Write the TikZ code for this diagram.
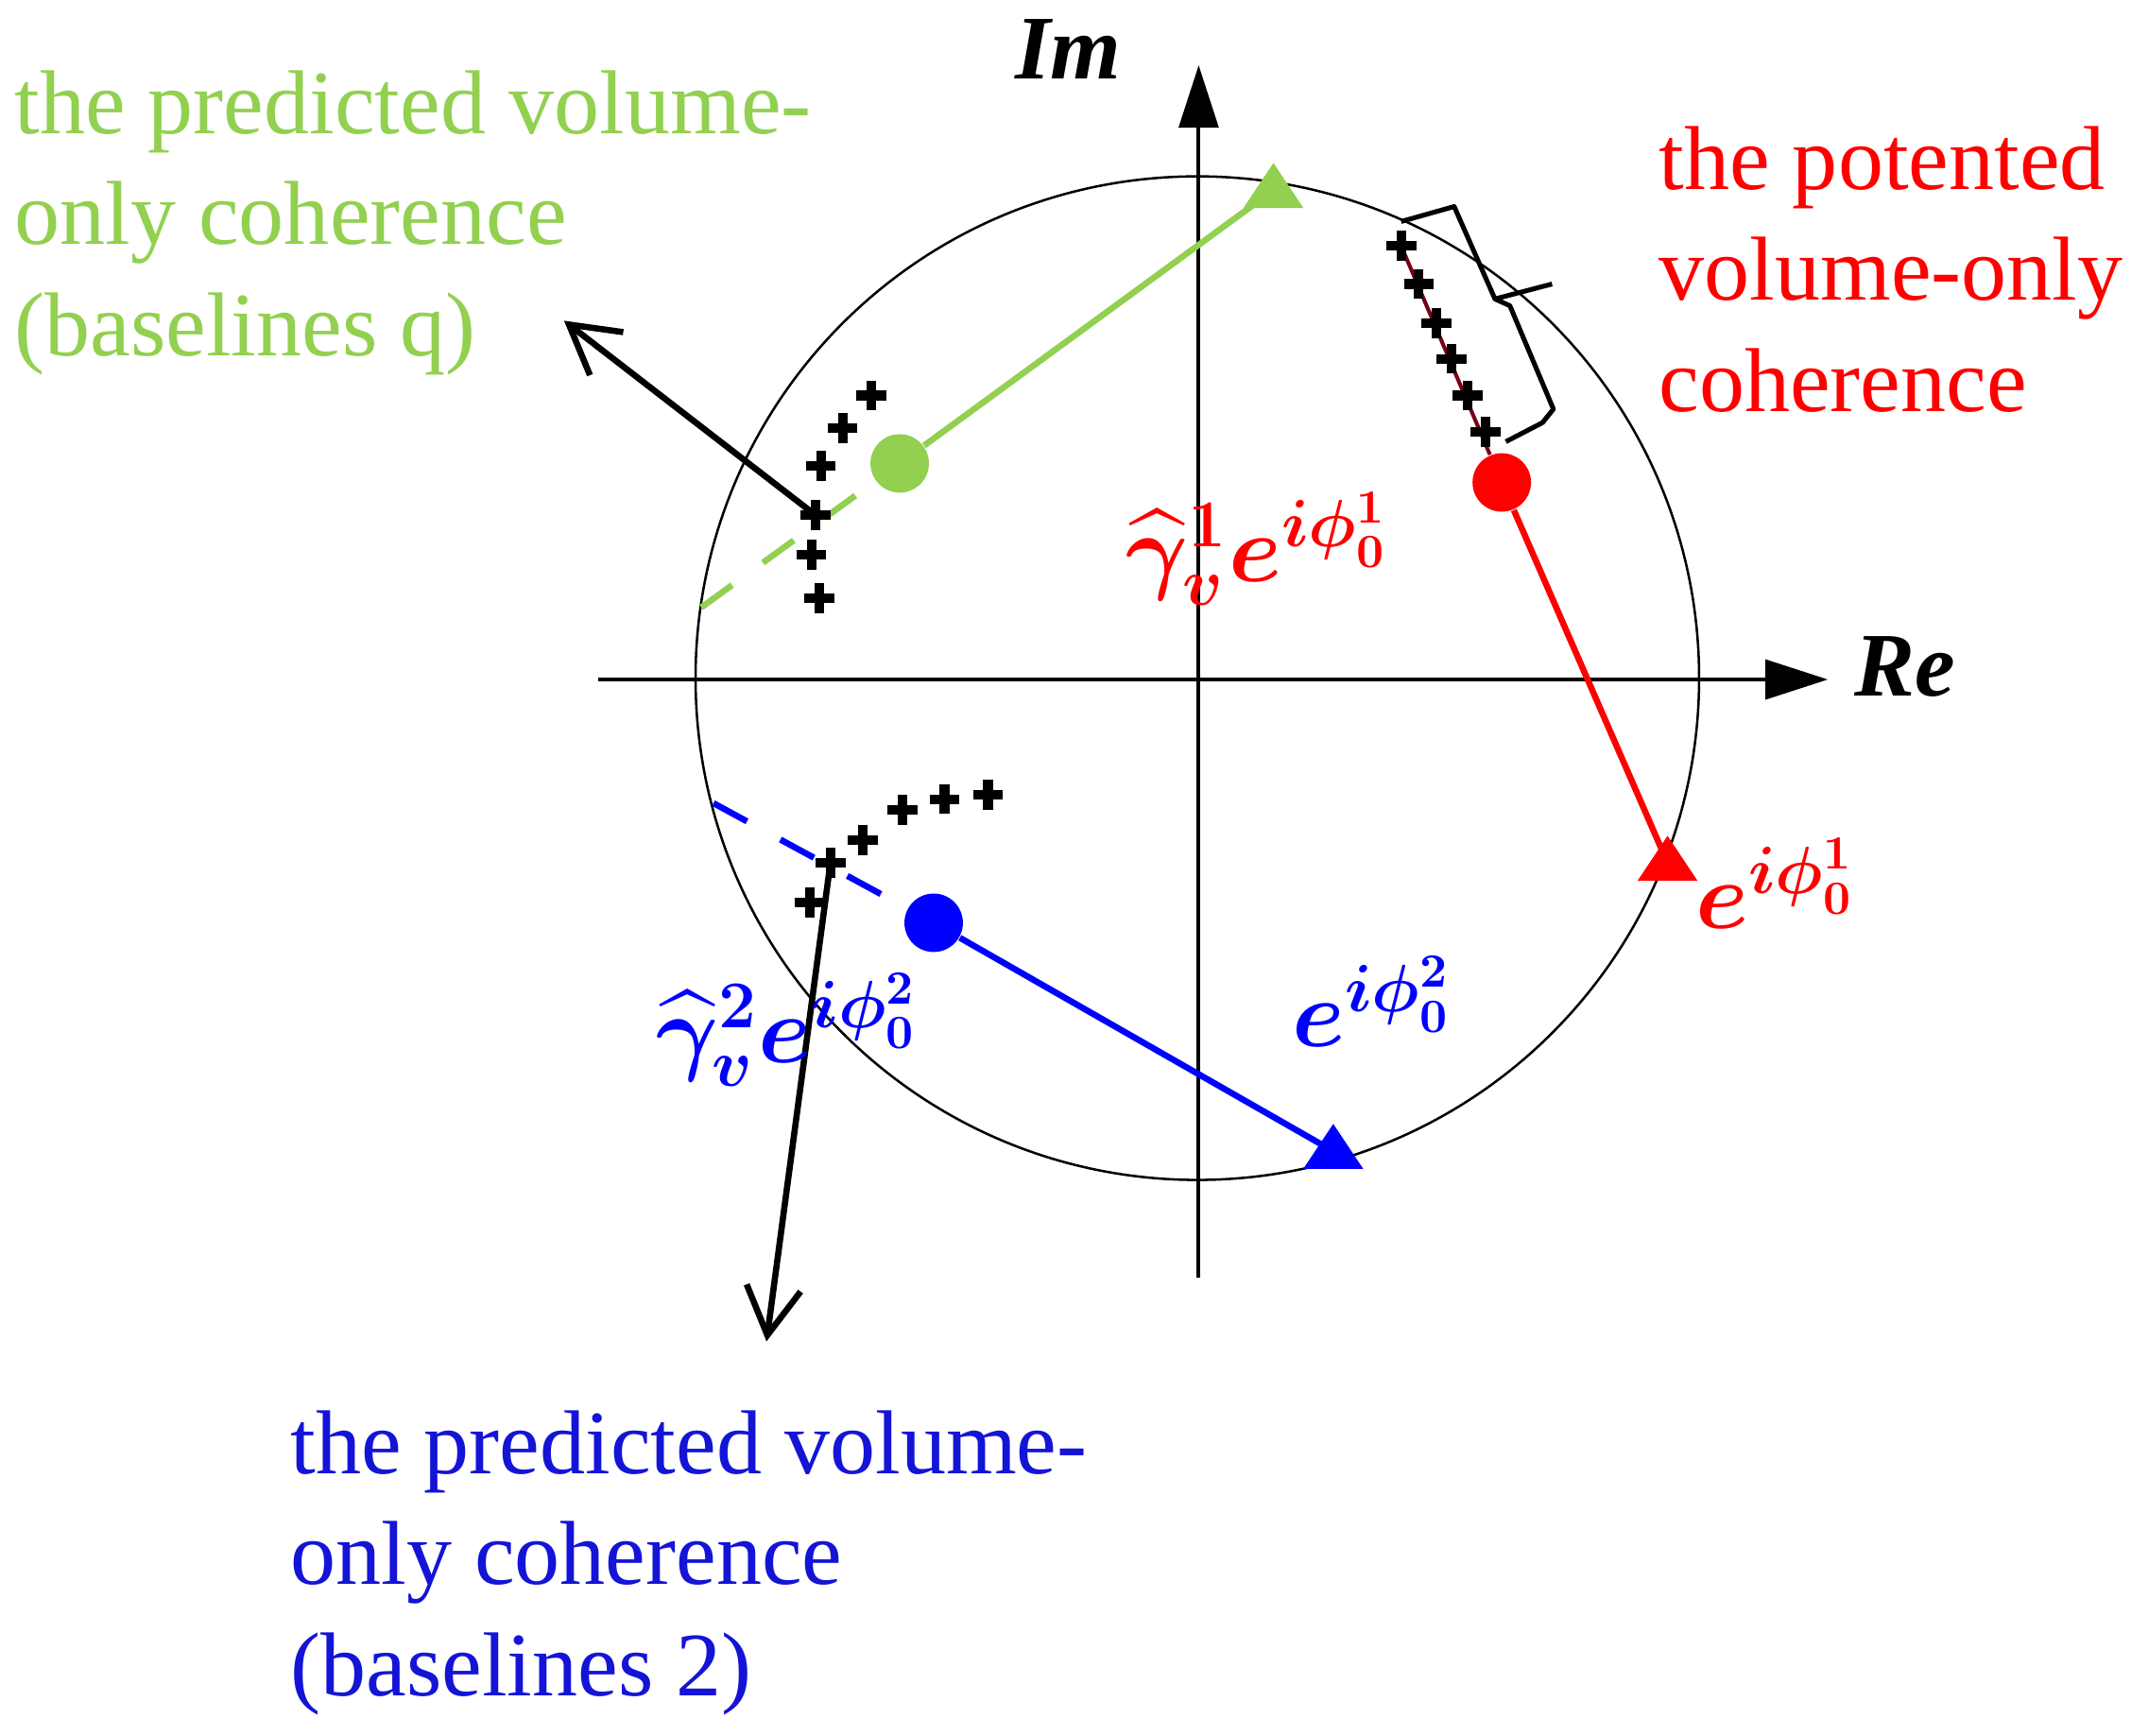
\RequirePackage{fix-cm}
\documentclass[tikz,border=0pt]{standalone}
\usepackage{amsmath}
\usepackage{fontspec}
\setmainfont{Liberation Serif}
\usepackage{bm}
\usetikzlibrary{arrows.meta,calc}
\definecolor{mygreen}{RGB}{146,208,80}
\definecolor{myred}{RGB}{255,0,0}
\definecolor{myblue}{RGB}{0,0,255}
\definecolor{txtblue}{RGB}{20,20,215}
\definecolor{darkred}{RGB}{120,0,20}
\tikzset{
  dotst/.style={circle, minimum size=0.43cm, inner sep=0pt},
  starmark/.pic={\draw[line width=2pt] (-11,0)--(11,0) (0,-11)--(0,11);},
  tri/.pic={\fill (-22,13) -- (0,-20) -- (22,13) -- cycle;},
  annot/.style={line width=1.3pt, -{Straight Barb[length=3.5mm,width=4mm]}},
  axis/.style={line width=0.8pt, -{Triangle[length=4.6mm,width=2.9mm]}},
  vec/.style={line width=1.3pt},
  dashvec/.style={line width=1.3pt, dash pattern=on 0.28cm off 0.28cm},
  desc/.style={anchor=base west, align=left, inner sep=0pt, font=\fontsize{19}{23.3}\selectfont},
  mlabel/.style={anchor=base west, inner sep=0pt, font=\fontsize{20}{24}\selectfont},
}
\begin{document}
\begin{tikzpicture}[x=0.01cm, y=-0.01cm]
\useasboundingbox (0,0) rectangle (1568,1277);
\fill[white] (0,0) rectangle (1568,1277);

% axes and unit circle
\coordinate (O) at (881,499);
\coordinate (xl) at (440,500);
\coordinate (xr) at (1345,500);
\coordinate (yb) at (882,940);
\coordinate (yt) at (882,48);
\draw[line width=0.5pt] (O) circle [radius=3.69cm];
\draw[axis] (xl) -- (xr);
\draw[axis] (yb) -- (yt);
\node[anchor=base, inner sep=0pt, font=\fontsize{19}{23}\selectfont\bfseries\itshape] (im) at (786,58) {Im};
\node[anchor=base west, inner sep=0pt, font=\fontsize{19}{23}\selectfont\bfseries\itshape] (re) at (1364,512) {Re};

% points
\node[dotst, fill=mygreen] (G) at (662,341) {};
\node[dotst, fill=myred] (R) at (1105,355) {};
\node[dotst, fill=myblue] (B) at (687,679) {};
\coordinate (GT) at (937,140);
\coordinate (RT) at (1227,635);
\coordinate (BT) at (981,847);
\coordinate (GE) at (516,447);
\coordinate (BE) at (525,591);
\coordinate (RE) at (1031,181);

% vectors
\draw[vec, mygreen] (G) -- (GT);
\draw[vec, myred] (R) -- (RT);
\draw[vec, myblue] (B) -- (BT);
\draw[dashvec, mygreen] (GE) -- (G);
\draw[dashvec, myblue] (BE) -- (B);
\draw[line width=0.8pt, darkred] (R) -- (RE);

% star marks
\coordinate (gs1) at (641,291);
\coordinate (gs2) at (620,315);
\coordinate (gs3) at (604,343);
\coordinate (gs4) at (600,379);
\coordinate (gs5) at (597,408);
\coordinate (gs6) at (603,440);
\coordinate (bs1) at (596,664);
\coordinate (bs2) at (611,635);
\coordinate (bs3) at (635,618);
\coordinate (bs4) at (664,596);
\coordinate (bs5) at (695,588);
\coordinate (bs6) at (727,585);
\coordinate (rs1) at (1031,181);
\coordinate (rs2) at (1044,209);
\coordinate (rs3) at (1057,238);
\coordinate (rs4) at (1068,264);
\coordinate (rs5) at (1080,291);
\coordinate (rs6) at (1093,318);
\foreach \s in {gs1,gs2,gs3,gs4,gs5,gs6,bs1,bs2,bs3,bs4,bs5,bs6,rs1,rs2,rs3,rs4,rs5,rs6}
  \pic at (\s) {starmark};

% triangles
\pic[mygreen] at (GT) {tri};
\pic[myred] at (RT) {tri};
\pic[myblue] at (BT) {tri};

% brace
\draw[line width=1pt, line join=round]
  (1031,163) -- (1070,152) -- (1100,220) -- (1142,209)
  (1100,220) -- (1111,225) -- (1143,301) -- (1135,311) -- (1108,325);

% annotation arrows
\coordinate (a1) at (415,236);
\coordinate (a2) at (564,987);
\draw[annot] (gs4) -- (a1);
\draw[annot] (bs2) -- (a2);

% descriptive texts (anchor at baseline of last line)
\node[desc, text=mygreen] (gtext) at (10,262) {the predicted volume-\\only coherence\\(baselines q)};
\node[desc, text=myred] (rtext) at (1220,303) {the potented\\volume-only\\coherence};
\node[desc, text=txtblue] (btext) at (213,1248) {the predicted volume-\\only coherence\\(baselines 2)};

% math labels
\node[mlabel, text=myred] (l1) at (828,428) {$\bm{\widehat{\gamma}_v^{1} e^{i\phi_0^{1}}}$};
\node[mlabel, text=myred] (l2) at (1247,683) {$\bm{e^{i\phi_0^{1}}}$};
\node[mlabel, text=myblue] (l3) at (482,782) {$\bm{\widehat{\gamma}_v^{2} e^{i\phi_0^{2}}}$};
\node[mlabel, text=myblue] (l4) at (950,770) {$\bm{e^{i\phi_0^{2}}}$};
\end{tikzpicture}
\end{document}
